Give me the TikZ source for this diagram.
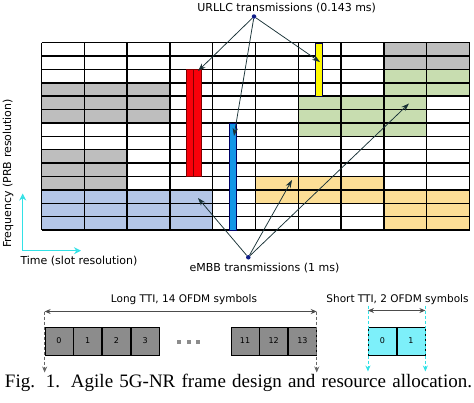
\documentclass[tikz,border=0pt]{standalone}
\usepackage{fontspec}
\setmainfont{Liberation Serif}
\newfontfamily\labelfont{DejaVu Sans}
\usetikzlibrary{arrows.meta,positioning}

\definecolor{cellgray}{RGB}{190,190,190}
\definecolor{cellgreen}{RGB}{200,221,176}
\definecolor{cellyellow}{RGB}{252,222,150}
\definecolor{cellblue}{RGB}{180,198,231}
\definecolor{barred}{RGB}{250,0,10}
\definecolor{barblue}{RGB}{20,150,230}
\definecolor{baryellow}{RGB}{255,250,0}
\definecolor{axiscyan}{RGB}{50,225,230}
\definecolor{symgray}{RGB}{140,140,140}
\definecolor{symcyan}{RGB}{125,240,250}
\definecolor{calloutcol}{RGB}{25,50,55}

\begin{document}
\begin{tikzpicture}[x=1pt, y=-1pt,
    lbl/.style={font=\labelfont\fontsize{11}{13}\selectfont, inner sep=0pt},
    ttilbl/.style={font=\labelfont\fontsize{10.5}{12}\selectfont, inner sep=0pt},
    dot/.style={circle, fill=calloutcol!60!blue, inner sep=0pt, minimum size=4.5pt},
    callout/.style={draw=calloutcol, line width=0.75pt, -{Stealth[length=8pt,width=5.5pt]}},
    axis/.style={draw=axiscyan, line width=1.1pt, -{Stealth[length=7pt,width=7pt,open]}},
    sym/.style={rectangle, draw, line width=0.7pt, minimum width=28pt, minimum height=28.3pt, inner sep=0pt, font=\labelfont\fontsize{8}{9}\selectfont},
    gap/.style={rectangle, fill=symgray, inner sep=0pt, minimum size=4pt},
    span/.style={draw=black!70, line width=0.8pt, {Stealth[length=6pt,width=5pt]}-{Stealth[length=6pt,width=5pt]}},
    tick/.style={draw=black!60, line width=0.8pt, densely dashed, -{Stealth[length=6pt,width=5pt]}},
    cyantick/.style={draw=axiscyan, line width=0.8pt, densely dashed, -{Stealth[length=6pt,width=5pt]}}
]
\useasboundingbox (0,0) rectangle (474,402);

% resource grid: 10 slots x 14 PRBs
\begin{scope}[shift={(41.5,42.7)}, x=42.8pt, y=-13.38pt]
  \fill[cellgray] (0,3) rectangle (3,6);
  \fill[cellgray] (0,8) rectangle (2,11);
  \fill[cellgray] (8,0) rectangle (10,2);
  \fill[cellgreen] (8,2) rectangle (10,4);
  \fill[cellgreen] (6,4) rectangle (9,7);
  \fill[cellyellow] (5,10) rectangle (8,12);
  \fill[cellyellow] (8,11) rectangle (10,14);
  \fill[cellblue] (0,11) rectangle (4,14);
  \foreach \i in {0,...,10}
    \draw[line width=1.5pt] (\i,0) -- (\i,14);
  \foreach \j in {0,...,14}
    \draw[line width=1.5pt] (0,\j) -- (10,\j);
  % mini-slot bars
  \filldraw[fill=barred, draw=red!50!black, line width=0.4pt] (3.37,2) rectangle (3.727,10);
  \draw[red!50!black, line width=0.4pt] (3.55,2) -- (3.55,10);
  \filldraw[fill=barblue, draw=blue!40!black, line width=0.3pt] (4.39,6) rectangle (4.545,14);
  \filldraw[fill=baryellow, draw=blue!30!black, line width=0.3pt] (6.39,0) rectangle (6.55,4);
\end{scope}

% URLLC callouts
\node[lbl] (urllc) at (286.7,8) {URLLC transmissions (0.143 ms)};
\node[dot] (urllcdot) at (254,16.5) {};
\coordinate (redtip) at (198,71);
\coordinate (bluetip) at (234,136);
\coordinate (yeltip) at (320,62);
\draw[callout] (urllcdot) -- (redtip);
\draw[callout] (urllcdot) -- (bluetip);
\draw[callout] (urllcdot) -- (yeltip);

% eMBB callouts
\node[lbl] (embb) at (264.5,268.5) {eMBB transmissions (1 ms)};
\node[dot] (embbdot) at (248.3,257.3) {};
\coordinate (bluearea) at (198,198);
\coordinate (yelarea) at (292,180);
\coordinate (greenarea) at (409,103.5);
\draw[callout] (embbdot) -- (bluearea);
\draw[callout] (embbdot) -- (yelarea);
\draw[callout] (embbdot) -- (greenarea);

% axes
\coordinate (origin) at (22.7,250.7);
\coordinate (freqend) at (22.7,193.5);
\coordinate (timeend) at (81,250.7);
\draw[axis] (origin) -- (freqend);
\draw[axis] (origin) -- (timeend);
\node[lbl, rotate=90] (freq) at (8,173.5) {Frequency (PRB resolution)};
\node[lbl] (time) at (79,261) {Time (slot resolution)};

% long TTI
\node[sym, fill=symgray] (lt0) at (59,341) {0};
\node[sym, fill=symgray, right=0pt of lt0] (lt1) {1};
\node[sym, fill=symgray, right=0pt of lt1] (lt2) {2};
\node[sym, fill=symgray, right=0pt of lt2] (lt3) {3};
\foreach \n/\x in {a/179,b/188.5,c/198}
  \node[gap] (gap\n) at (\x,341.5) {};
\node[sym, fill=symgray] (lt11) at (245,341) {11};
\node[sym, fill=symgray, right=0pt of lt11] (lt12) {12};
\node[sym, fill=symgray, right=0pt of lt12] (lt13) {13};
\coordinate (ltstart) at ([yshift=15pt]lt0.north west);
\coordinate (ltstop) at ([yshift=15pt]lt13.north east);
\coordinate (ltstartdn) at ([yshift=-17pt]lt0.south west);
\coordinate (ltstopdn) at ([yshift=-17pt]lt13.south east);
\draw[span] (ltstart) -- (ltstop);
\draw[tick] (ltstart) -- (ltstartdn);
\draw[tick] (ltstop) -- (ltstopdn);
\node[ttilbl] (longtti) at (184,299.5) {Long TTI, 14 OFDM symbols};

% short TTI
\node[sym, fill=symcyan] (st0) at (382.3,341) {0};
\node[sym, fill=symcyan, right=0pt of st0] (st1) {1};
\coordinate (ststart) at ([yshift=21pt]st0.north west);
\coordinate (ststop) at ([yshift=21pt]st1.north east);
\coordinate (stspanA) at ([yshift=16pt]st0.north west);
\coordinate (stspanB) at ([yshift=16pt]st1.north east);
\coordinate (ststartdn) at ([yshift=-16pt]st0.south west);
\coordinate (ststopdn) at ([yshift=-16pt]st1.south east);
\draw[cyantick] (ststart) -- (ststartdn);
\draw[cyantick] (ststop) -- (ststopdn);
\draw[span] (stspanA) -- (stspanB);
\node[ttilbl] (shorttti) at (397.5,299.5) {Short TTI, 2 OFDM symbols};

% caption
\node[inner sep=0pt, anchor=base, font=\fontsize{19}{22}\selectfont] (caption) at (238.5,387.5)
  {\makebox[467pt][s]{Fig. 1. Agile 5G-NR frame design and resource allocation.}};
\end{tikzpicture}
\end{document}
